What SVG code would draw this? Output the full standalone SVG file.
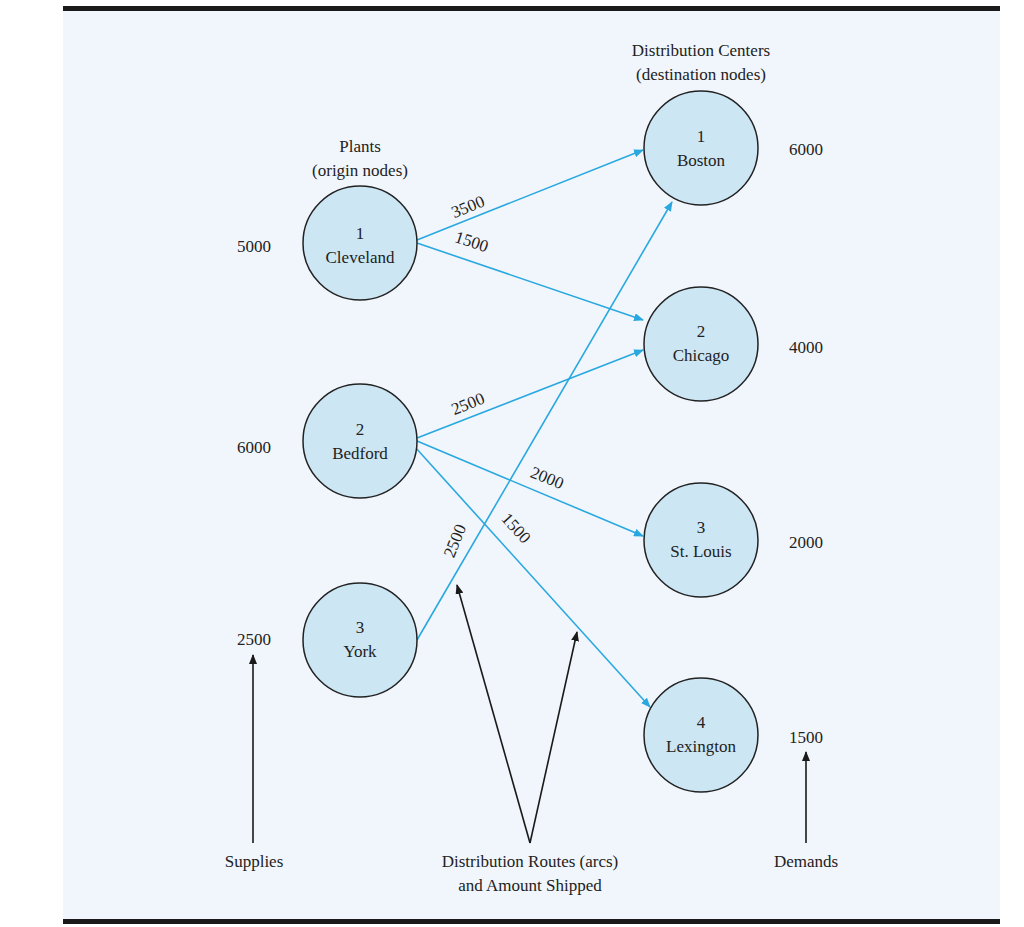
<svg xmlns="http://www.w3.org/2000/svg" width="1024" height="927" viewBox="0 0 1024 927">
<defs>
<marker id="ab" markerWidth="10" markerHeight="8" refX="9" refY="4" orient="auto" markerUnits="userSpaceOnUse"><path d="M0,0 L10,4 L0,8 Z" fill="#29a8e0"/></marker>
<marker id="ak" markerWidth="10" markerHeight="8" refX="9" refY="4" orient="auto" markerUnits="userSpaceOnUse"><path d="M0,0 L10,4 L0,8 Z" fill="#1a1a1a"/></marker>
</defs>
<style>
text{font-family:"Liberation Serif",serif;font-size:17px;fill:#222;text-anchor:middle}
circle{fill:#cde6f4;stroke:#222;stroke-width:1.5}
.e{stroke:#29a8e0;stroke-width:1.6;fill:none;marker-end:url(#ab)}
.k{stroke:#1a1a1a;stroke-width:1.6;fill:none;marker-end:url(#ak)}
</style>
<rect width="1024" height="927" fill="#fff"/>
<rect x="63" y="8" width="937" height="914" fill="#f1f6fc"/>
<rect x="63" y="6" width="937" height="5" fill="#1a1a1a"/>
<rect x="63" y="919" width="937" height="5" fill="#1a1a1a"/>
<g id="headers">
<text x="360" y="152">Plants</text><text x="360" y="176">(origin nodes)</text>
<text x="701" y="56">Distribution Centers</text><text x="701" y="80">(destination nodes)</text>
</g>
<g id="connectors">
<line class="e" x1="417" y1="240" x2="643" y2="150"/>
<line class="e" x1="417" y1="243" x2="643" y2="320"/>
<line class="e" x1="417" y1="438" x2="643" y2="350"/>
<line class="e" x1="417" y1="441" x2="643" y2="536"/>
<line class="e" x1="415" y1="447" x2="650" y2="707"/>
<line class="e" x1="417" y1="640" x2="672" y2="202"/>
<line class="k" x1="530" y1="843" x2="457" y2="585"/>
<line class="k" x1="530" y1="843" x2="577" y2="632"/>
<line class="k" x1="253" y1="843" x2="253" y2="655"/>
<line class="k" x1="806" y1="843" x2="806" y2="752"/>
<text transform="translate(470,212) rotate(-22)">3500</text>
<text transform="translate(470,247) rotate(18)">1500</text>
<text transform="translate(470,409) rotate(-22)">2500</text>
<text transform="translate(545,483) rotate(22)">2000</text>
<text transform="translate(512,532) rotate(48)">1500</text>
<text transform="translate(460,543) rotate(-68)">2500</text>
</g>
<g id="cleveland"><circle cx="360" cy="243" r="57"/><text x="360" y="239">1</text><text x="360" y="263">Cleveland</text></g>
<g id="bedford"><circle cx="360" cy="441" r="57"/><text x="360" y="435">2</text><text x="360" y="459">Bedford</text></g>
<g id="york"><circle cx="360" cy="640" r="57"/><text x="360" y="633">3</text><text x="360" y="657">York</text></g>
<g id="boston"><circle cx="701" cy="148" r="57"/><text x="701" y="142">1</text><text x="701" y="166">Boston</text></g>
<g id="chicago"><circle cx="701" cy="344" r="57"/><text x="701" y="337">2</text><text x="701" y="361">Chicago</text></g>
<g id="stlouis"><circle cx="701" cy="540" r="57"/><text x="701" y="533">3</text><text x="701" y="557">St. Louis</text></g>
<g id="lexington"><circle cx="701" cy="735" r="57"/><text x="701" y="728">4</text><text x="701" y="752">Lexington</text></g>
<g id="values">
<text x="254" y="252">5000</text><text x="254" y="453">6000</text><text x="254" y="645">2500</text>
<text x="806" y="155">6000</text><text x="806" y="353">4000</text><text x="806" y="548">2000</text><text x="806" y="743">1500</text>
<text x="254" y="867">Supplies</text><text x="806" y="867">Demands</text>
<text x="530" y="867">Distribution Routes (arcs)</text><text x="530" y="891">and Amount Shipped</text>
</g>
</svg>
